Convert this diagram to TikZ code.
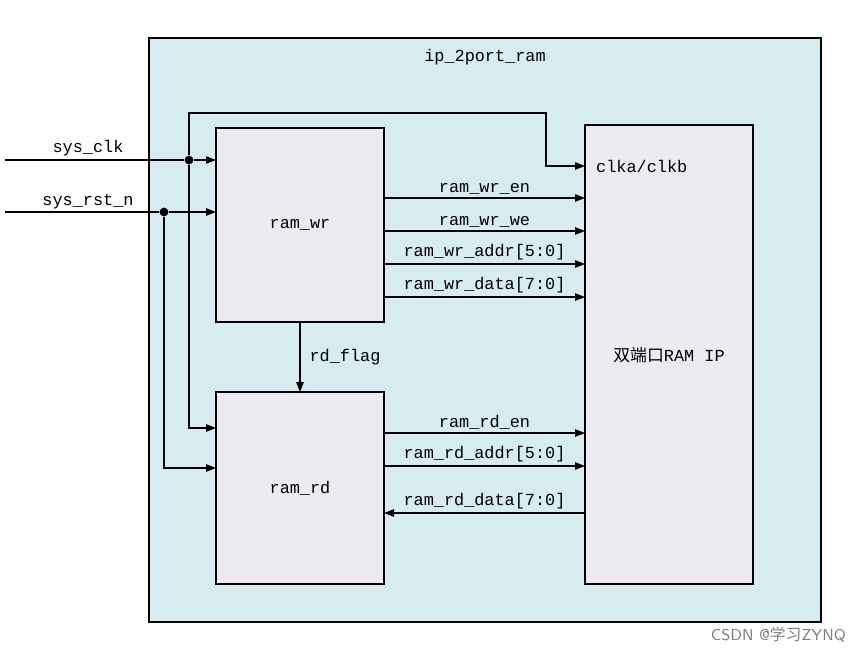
\documentclass[tikz,border=0pt]{standalone}
\usepackage{fontspec}
\setmonofont{Liberation Mono}
\newfontfamily\cjk{Noto Sans CJK SC}
\usetikzlibrary{arrows.meta}
\begin{document}
\begin{tikzpicture}[x=0.02cm,y=-0.02cm,
  every node/.style={font=\fontsize{9.6pt}{11pt}\ttfamily},
  blk/.style={draw, fill=blockfill, line width=0.6pt},
  sig/.style={line width=0.6pt, -{Triangle[length=2mm,width=1.5mm]}},
  lbl/.style={above, inner sep=2pt},
  dot/.style={circle, fill=black, inner sep=0pt, minimum size=5pt}]
\definecolor{bgfill}{HTML}{D6ECF0}
\definecolor{blockfill}{HTML}{EEEAF2}
\useasboundingbox (0,0) rectangle (865,653);
% outer module
\draw[fill=bgfill, line width=0.6pt] (149,38) rectangle (821,622);
\node (title) at (485,57) {ip\_2port\_ram};
% blocks
\draw[blk] (216,128) rectangle (384,322);
\node (wr) at (300,225) {ram\_wr};
\draw[blk] (216,392) rectangle (384,584);
\node (rd) at (300,488) {ram\_rd};
\draw[blk] (585,125) rectangle (753,584);
\node (ram) at (669,355) {{\cjk 双端口}RAM IP};
\node[anchor=west] (clk) at (590,166) {clka/clkb};
% inputs
\coordinate (clkin) at (5,160);
\coordinate (rstin) at (5,212);
\node[dot] (dclk) at (189,160) {};
\node[dot] (drst) at (164,212) {};
\node (lclk) at (88,148) {sys\_clk};
\node (lrst) at (88,202) {sys\_rst\_n};
\draw[line width=0.6pt] (clkin) -- (dclk);
\draw[line width=0.6pt] (rstin) -- (drst);
\draw[sig] (dclk) -- (216,160);
\draw[sig] (drst) -- (216,212);
\draw[sig] (dclk) |- (546,113) |- (585,166);
\draw[sig] (dclk) |- (216,428);
\draw[sig] (drst) |- (216,468);
% write signals
\foreach \y/\t in {198/ram\_wr\_en, 231/ram\_wr\_we, 264/ram\_wr\_addr[5:0], 297/ram\_wr\_data[7:0]}
  \draw[sig] (384,\y) -- node[lbl]{\t} (585,\y);
% rd_flag
\draw[sig] (300,322) -- (300,392);
\node (flag) at (345,357) {rd\_flag};
% read signals
\draw[sig] (384,433) -- node[lbl]{ram\_rd\_en} (585,433);
\draw[sig] (384,466) -- node[lbl]{ram\_rd\_addr[5:0]} (585,466);
\draw[sig] (585,513) -- node[lbl]{ram\_rd\_data[7:0]} (384,513);
% watermark
\node[text=gray, font=\fontsize{9pt}{10pt}\sffamily, anchor=east] (wm) at (852,635) {CSDN @{\cjk 学习}ZYNQ};
\end{tikzpicture}
\end{document}
